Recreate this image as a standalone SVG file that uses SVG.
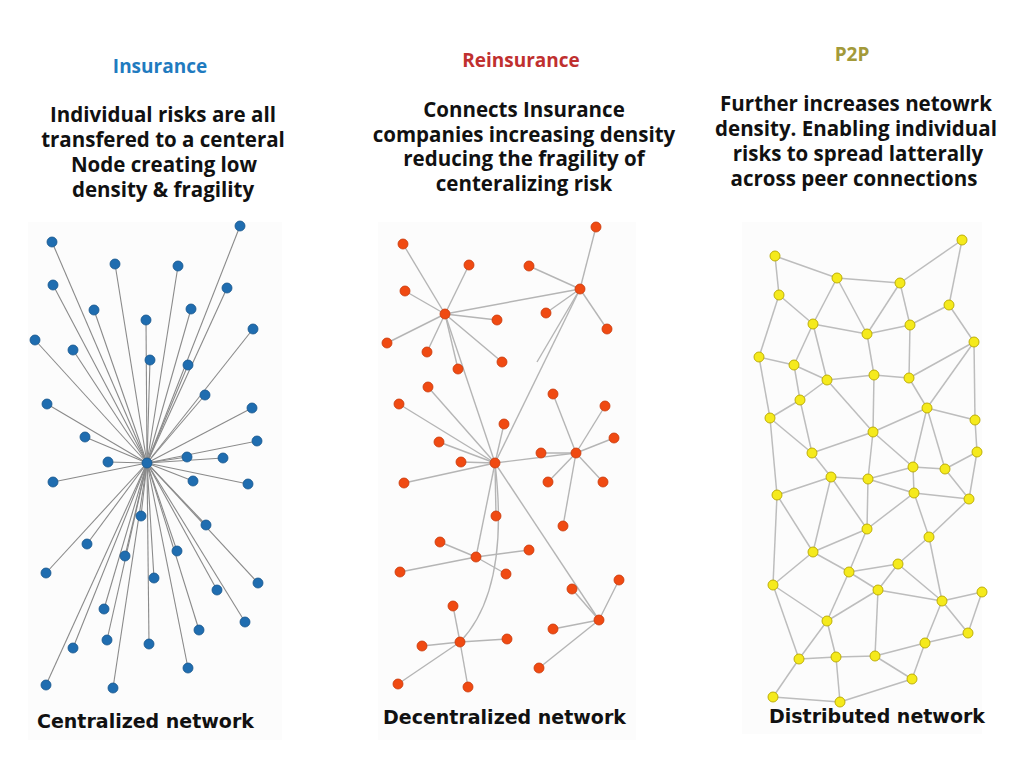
<svg xmlns="http://www.w3.org/2000/svg" width="1024" height="768" viewBox="0 0 1024 768">
<style>
.t{font-family:"Open Sans","Liberation Sans",sans-serif;font-weight:bold;font-size:20.5px;text-anchor:middle;fill:#111}
.h{font-family:"Open Sans","Liberation Sans",sans-serif;font-weight:bold;font-size:19px;text-anchor:middle}
.lbl{font-family:"DejaVu Sans",sans-serif;font-weight:bold;font-size:19px;fill:#111}
.e1 line{stroke:#8a8a8a;stroke-width:1.1}
.e2 line,.e2 path{stroke:#b5b5b5;stroke-width:1.4;fill:none}
.e3 line{stroke:#bdbdbd;stroke-width:1.5}
.n1 circle{fill:#1f6db0;stroke:#17568c;stroke-width:0.8}
.n2 circle{fill:#f04a12;stroke:#c8380a;stroke-width:0.8}
.n3 circle{fill:#f5ea1c;stroke:#b8a800;stroke-width:0.9}
</style>
<rect width="1024" height="768" fill="#fff"/>
<rect x="28" y="222" width="254" height="518" fill="#fcfcfc"/>
<rect x="378" y="222" width="258" height="518" fill="#fcfcfc"/>
<rect x="742" y="222" width="240" height="512" fill="#fcfcfc"/>
<text class="h" x="160" y="73" fill="#1f7bbf">Insurance</text>
<text class="h" x="521" y="67" fill="#c0302f">Reinsurance</text>
<text class="h" x="852" y="61" fill="#a39a3a">P2P</text>
<g class="t">
<text x="163" y="122">Individual risks are all</text>
<text x="163" y="147">transfered to a centeral</text>
<text x="164" y="172">Node creating low</text>
<text x="163" y="197">density &amp; fragility</text>
<text x="524" y="117">Connects Insurance</text>
<text x="524" y="142">companies increasing density</text>
<text x="524" y="166">reducing the fragility of</text>
<text x="524" y="191">centeralizing risk</text>
<text x="856" y="111">Further increases netowrk</text>
<text x="856" y="136">density. Enabling individual</text>
<text x="858" y="161">risks to spread latterally</text>
<text x="854" y="186">across peer connections</text>
</g>
<g id="connectors">
<g class="e1">
<line x1="147" y1="463" x2="52" y2="242"/><line x1="147" y1="463" x2="115" y2="264"/><line x1="147" y1="463" x2="178" y2="266"/><line x1="147" y1="463" x2="240" y2="226"/><line x1="147" y1="463" x2="53" y2="285"/><line x1="147" y1="463" x2="227" y2="288"/><line x1="147" y1="463" x2="94" y2="310"/><line x1="147" y1="463" x2="146" y2="320"/><line x1="147" y1="463" x2="191" y2="309"/><line x1="147" y1="463" x2="253" y2="329"/><line x1="147" y1="463" x2="35" y2="340"/><line x1="147" y1="463" x2="73" y2="350"/><line x1="147" y1="463" x2="150" y2="360"/><line x1="147" y1="463" x2="188" y2="365"/><line x1="147" y1="463" x2="205" y2="395"/><line x1="147" y1="463" x2="47" y2="404"/><line x1="147" y1="463" x2="252" y2="408"/><line x1="147" y1="463" x2="85" y2="437"/><line x1="147" y1="463" x2="257" y2="441"/><line x1="147" y1="463" x2="108" y2="462"/><line x1="147" y1="463" x2="187" y2="457"/><line x1="147" y1="463" x2="223" y2="458"/><line x1="147" y1="463" x2="53" y2="482"/><line x1="147" y1="463" x2="193" y2="481"/><line x1="147" y1="463" x2="248" y2="484"/><line x1="147" y1="463" x2="141" y2="516"/><line x1="147" y1="463" x2="206" y2="525"/><line x1="147" y1="463" x2="87" y2="544"/><line x1="147" y1="463" x2="125" y2="556"/><line x1="147" y1="463" x2="177" y2="551"/><line x1="147" y1="463" x2="46" y2="573"/><line x1="147" y1="463" x2="154" y2="578"/><line x1="147" y1="463" x2="217" y2="590"/><line x1="147" y1="463" x2="258" y2="583"/><line x1="147" y1="463" x2="104" y2="609"/><line x1="147" y1="463" x2="199" y2="630"/><line x1="147" y1="463" x2="245" y2="622"/><line x1="147" y1="463" x2="107" y2="640"/><line x1="147" y1="463" x2="149" y2="644"/><line x1="147" y1="463" x2="73" y2="648"/><line x1="147" y1="463" x2="188" y2="668"/><line x1="147" y1="463" x2="46" y2="685"/><line x1="147" y1="463" x2="113" y2="688"/>
</g>
<g class="e2">
<line x1="445" y1="314" x2="403" y2="244"/><line x1="445" y1="314" x2="469" y2="265"/><line x1="445" y1="314" x2="405" y2="291"/><line x1="445" y1="314" x2="497" y2="320"/><line x1="445" y1="314" x2="387" y2="343"/><line x1="445" y1="314" x2="427" y2="352"/><line x1="445" y1="314" x2="502" y2="362"/><line x1="445" y1="314" x2="458" y2="369"/>
<line x1="445" y1="314" x2="580" y2="289"/><line x1="445" y1="314" x2="495" y2="463"/>
<line x1="580" y1="289" x2="596" y2="227"/><line x1="580" y1="289" x2="529" y2="266"/><line x1="580" y1="289" x2="546" y2="313"/><line x1="580" y1="289" x2="607" y2="329"/><line x1="580" y1="289" x2="537" y2="362"/><line x1="580" y1="289" x2="495" y2="463"/>
<line x1="495" y1="463" x2="428" y2="387"/><line x1="495" y1="463" x2="399" y2="404"/><line x1="495" y1="463" x2="504" y2="424"/><line x1="495" y1="463" x2="439" y2="442"/><line x1="495" y1="463" x2="461" y2="462"/><line x1="495" y1="463" x2="404" y2="483"/><line x1="495" y1="463" x2="496" y2="516"/>
<line x1="495" y1="463" x2="576" y2="453"/><line x1="495" y1="463" x2="476" y2="557"/><line x1="495" y1="463" x2="599" y2="620"/>
<path d="M495,463 Q510,590 460,642"/>
<line x1="576" y1="453" x2="553" y2="394"/><line x1="576" y1="453" x2="605" y2="406"/><line x1="576" y1="453" x2="614" y2="438"/><line x1="576" y1="453" x2="541" y2="453"/><line x1="576" y1="453" x2="548" y2="482"/><line x1="576" y1="453" x2="603" y2="482"/><line x1="576" y1="453" x2="563" y2="526"/>
<line x1="476" y1="557" x2="440" y2="542"/><line x1="476" y1="557" x2="529" y2="550"/><line x1="476" y1="557" x2="400" y2="572"/><line x1="476" y1="557" x2="506" y2="574"/>
<line x1="460" y1="642" x2="453" y2="606"/><line x1="460" y1="642" x2="422" y2="646"/><line x1="460" y1="642" x2="507" y2="639"/><line x1="460" y1="642" x2="398" y2="684"/><line x1="460" y1="642" x2="468" y2="687"/>
<line x1="599" y1="620" x2="572" y2="589"/><line x1="599" y1="620" x2="619" y2="580"/><line x1="599" y1="620" x2="553" y2="629"/><line x1="599" y1="620" x2="539" y2="668"/>
</g>
<g class="e3">
<line x1="775" y1="256" x2="837" y2="278"/><line x1="775" y1="256" x2="779" y2="295"/><line x1="837" y1="278" x2="900" y2="283"/><line x1="900" y1="283" x2="962" y2="240"/><line x1="837" y1="278" x2="813" y2="324"/><line x1="837" y1="278" x2="867" y2="334"/><line x1="900" y1="283" x2="867" y2="334"/><line x1="900" y1="283" x2="910" y2="325"/><line x1="962" y1="240" x2="949" y2="305"/><line x1="779" y1="295" x2="813" y2="324"/><line x1="779" y1="295" x2="759" y2="357"/><line x1="813" y1="324" x2="867" y2="334"/><line x1="813" y1="324" x2="794" y2="365"/><line x1="813" y1="324" x2="827" y2="380"/><line x1="867" y1="334" x2="910" y2="325"/><line x1="867" y1="334" x2="874" y2="375"/><line x1="910" y1="325" x2="949" y2="305"/><line x1="910" y1="325" x2="909" y2="378"/><line x1="949" y1="305" x2="974" y2="342"/><line x1="759" y1="357" x2="794" y2="365"/><line x1="759" y1="357" x2="770" y2="418"/><line x1="794" y1="365" x2="827" y2="380"/><line x1="794" y1="365" x2="800" y2="400"/><line x1="827" y1="380" x2="874" y2="375"/><line x1="827" y1="380" x2="800" y2="400"/><line x1="874" y1="375" x2="909" y2="378"/><line x1="909" y1="378" x2="974" y2="342"/><line x1="909" y1="378" x2="927" y2="408"/><line x1="974" y1="342" x2="927" y2="408"/><line x1="974" y1="342" x2="975" y2="420"/><line x1="827" y1="380" x2="873" y2="432"/><line x1="874" y1="375" x2="873" y2="432"/><line x1="800" y1="400" x2="770" y2="418"/><line x1="800" y1="400" x2="812" y2="453"/><line x1="770" y1="418" x2="812" y2="453"/><line x1="927" y1="408" x2="873" y2="432"/><line x1="927" y1="408" x2="975" y2="420"/><line x1="927" y1="408" x2="913" y2="467"/><line x1="927" y1="408" x2="945" y2="469"/><line x1="975" y1="420" x2="977" y2="452"/><line x1="770" y1="418" x2="777" y2="495"/><line x1="873" y1="432" x2="812" y2="453"/><line x1="873" y1="432" x2="868" y2="479"/><line x1="873" y1="432" x2="913" y2="467"/><line x1="812" y1="453" x2="831" y2="477"/><line x1="831" y1="477" x2="868" y2="479"/><line x1="868" y1="479" x2="913" y2="467"/><line x1="913" y1="467" x2="945" y2="469"/><line x1="977" y1="452" x2="945" y2="469"/><line x1="977" y1="452" x2="969" y2="499"/><line x1="913" y1="467" x2="914" y2="493"/><line x1="868" y1="479" x2="914" y2="493"/><line x1="945" y1="469" x2="969" y2="499"/><line x1="914" y1="493" x2="969" y2="499"/><line x1="777" y1="495" x2="831" y2="477"/><line x1="831" y1="477" x2="867" y2="529"/><line x1="868" y1="479" x2="867" y2="529"/><line x1="831" y1="477" x2="813" y2="552"/><line x1="777" y1="495" x2="813" y2="552"/><line x1="777" y1="495" x2="773" y2="585"/><line x1="914" y1="493" x2="867" y2="529"/><line x1="914" y1="493" x2="929" y2="537"/><line x1="867" y1="529" x2="813" y2="552"/><line x1="867" y1="529" x2="849" y2="572"/><line x1="969" y1="499" x2="929" y2="537"/><line x1="929" y1="537" x2="898" y2="564"/><line x1="813" y1="552" x2="849" y2="572"/><line x1="813" y1="552" x2="773" y2="585"/><line x1="849" y1="572" x2="898" y2="564"/><line x1="849" y1="572" x2="878" y2="590"/><line x1="898" y1="564" x2="878" y2="590"/><line x1="898" y1="564" x2="942" y2="601"/><line x1="929" y1="537" x2="942" y2="601"/><line x1="878" y1="590" x2="942" y2="601"/><line x1="942" y1="601" x2="982" y2="592"/><line x1="982" y1="592" x2="968" y2="633"/><line x1="942" y1="601" x2="968" y2="633"/><line x1="942" y1="601" x2="925" y2="643"/><line x1="773" y1="585" x2="827" y2="621"/><line x1="878" y1="590" x2="827" y2="621"/><line x1="849" y1="572" x2="827" y2="621"/><line x1="878" y1="590" x2="875" y2="656"/><line x1="827" y1="621" x2="799" y2="659"/><line x1="827" y1="621" x2="836" y2="657"/><line x1="799" y1="659" x2="836" y2="657"/><line x1="836" y1="657" x2="875" y2="656"/><line x1="875" y1="656" x2="925" y2="643"/><line x1="875" y1="656" x2="912" y2="679"/><line x1="925" y1="643" x2="968" y2="633"/><line x1="925" y1="643" x2="912" y2="679"/><line x1="773" y1="585" x2="799" y2="659"/><line x1="799" y1="659" x2="773" y2="697"/><line x1="836" y1="657" x2="840" y2="702"/><line x1="773" y1="697" x2="840" y2="702"/><line x1="840" y1="702" x2="912" y2="679"/>
</g>
</g>
<g id="centralized" class="n1">
<circle cx="147" cy="463" r="5"/>
<circle cx="52" cy="242" r="5"/><circle cx="115" cy="264" r="5"/><circle cx="178" cy="266" r="5"/><circle cx="240" cy="226" r="5"/><circle cx="53" cy="285" r="5"/><circle cx="227" cy="288" r="5"/><circle cx="94" cy="310" r="5"/><circle cx="146" cy="320" r="5"/><circle cx="191" cy="309" r="5"/><circle cx="253" cy="329" r="5"/><circle cx="35" cy="340" r="5"/><circle cx="73" cy="350" r="5"/><circle cx="150" cy="360" r="5"/><circle cx="188" cy="365" r="5"/><circle cx="205" cy="395" r="5"/><circle cx="47" cy="404" r="5"/><circle cx="252" cy="408" r="5"/><circle cx="85" cy="437" r="5"/><circle cx="257" cy="441" r="5"/><circle cx="108" cy="462" r="5"/><circle cx="187" cy="457" r="5"/><circle cx="223" cy="458" r="5"/><circle cx="53" cy="482" r="5"/><circle cx="193" cy="481" r="5"/><circle cx="248" cy="484" r="5"/><circle cx="141" cy="516" r="5"/><circle cx="206" cy="525" r="5"/><circle cx="87" cy="544" r="5"/><circle cx="125" cy="556" r="5"/><circle cx="177" cy="551" r="5"/><circle cx="46" cy="573" r="5"/><circle cx="154" cy="578" r="5"/><circle cx="217" cy="590" r="5"/><circle cx="258" cy="583" r="5"/><circle cx="104" cy="609" r="5"/><circle cx="199" cy="630" r="5"/><circle cx="245" cy="622" r="5"/><circle cx="107" cy="640" r="5"/><circle cx="149" cy="644" r="5"/><circle cx="73" cy="648" r="5"/><circle cx="188" cy="668" r="5"/><circle cx="46" cy="685" r="5"/><circle cx="113" cy="688" r="5"/>
</g>
<g id="decentralized" class="n2">
<circle cx="445" cy="314" r="5"/><circle cx="580" cy="289" r="5"/><circle cx="495" cy="463" r="5"/><circle cx="576" cy="453" r="5"/><circle cx="476" cy="557" r="5"/><circle cx="460" cy="642" r="5"/><circle cx="599" cy="620" r="5"/>
<circle cx="403" cy="244" r="5"/><circle cx="469" cy="265" r="5"/><circle cx="405" cy="291" r="5"/><circle cx="497" cy="320" r="5"/><circle cx="387" cy="343" r="5"/><circle cx="427" cy="352" r="5"/><circle cx="502" cy="362" r="5"/><circle cx="458" cy="369" r="5"/>
<circle cx="596" cy="227" r="5"/><circle cx="529" cy="266" r="5"/><circle cx="546" cy="313" r="5"/><circle cx="607" cy="329" r="5"/>
<circle cx="428" cy="387" r="5"/><circle cx="399" cy="404" r="5"/><circle cx="504" cy="424" r="5"/><circle cx="439" cy="442" r="5"/><circle cx="461" cy="462" r="5"/><circle cx="404" cy="483" r="5"/><circle cx="496" cy="516" r="5"/>
<circle cx="553" cy="394" r="5"/><circle cx="605" cy="406" r="5"/><circle cx="614" cy="438" r="5"/><circle cx="541" cy="453" r="5"/><circle cx="548" cy="482" r="5"/><circle cx="603" cy="482" r="5"/><circle cx="563" cy="526" r="5"/>
<circle cx="440" cy="542" r="5"/><circle cx="529" cy="550" r="5"/><circle cx="400" cy="572" r="5"/><circle cx="506" cy="574" r="5"/>
<circle cx="453" cy="606" r="5"/><circle cx="422" cy="646" r="5"/><circle cx="507" cy="639" r="5"/><circle cx="398" cy="684" r="5"/><circle cx="468" cy="687" r="5"/>
<circle cx="572" cy="589" r="5"/><circle cx="619" cy="580" r="5"/><circle cx="553" cy="629" r="5"/><circle cx="539" cy="668" r="5"/>
</g>
<g id="distributed" class="n3">
<circle cx="775" cy="256" r="5"/><circle cx="837" cy="278" r="5"/><circle cx="900" cy="283" r="5"/><circle cx="962" cy="240" r="5"/><circle cx="779" cy="295" r="5"/><circle cx="813" cy="324" r="5"/><circle cx="867" cy="334" r="5"/><circle cx="910" cy="325" r="5"/><circle cx="949" cy="305" r="5"/><circle cx="759" cy="357" r="5"/><circle cx="794" cy="365" r="5"/><circle cx="827" cy="380" r="5"/><circle cx="874" cy="375" r="5"/><circle cx="909" cy="378" r="5"/><circle cx="974" cy="342" r="5"/><circle cx="800" cy="400" r="5"/><circle cx="770" cy="418" r="5"/><circle cx="927" cy="408" r="5"/><circle cx="975" cy="420" r="5"/><circle cx="873" cy="432" r="5"/><circle cx="812" cy="453" r="5"/><circle cx="977" cy="452" r="5"/><circle cx="831" cy="477" r="5"/><circle cx="868" cy="479" r="5"/><circle cx="913" cy="467" r="5"/><circle cx="945" cy="469" r="5"/><circle cx="777" cy="495" r="5"/><circle cx="914" cy="493" r="5"/><circle cx="969" cy="499" r="5"/><circle cx="867" cy="529" r="5"/><circle cx="929" cy="537" r="5"/><circle cx="813" cy="552" r="5"/><circle cx="849" cy="572" r="5"/><circle cx="898" cy="564" r="5"/><circle cx="773" cy="585" r="5"/><circle cx="878" cy="590" r="5"/><circle cx="942" cy="601" r="5"/><circle cx="982" cy="592" r="5"/><circle cx="827" cy="621" r="5"/><circle cx="925" cy="643" r="5"/><circle cx="968" cy="633" r="5"/><circle cx="799" cy="659" r="5"/><circle cx="836" cy="657" r="5"/><circle cx="875" cy="656" r="5"/><circle cx="912" cy="679" r="5"/><circle cx="773" cy="697" r="5"/><circle cx="840" cy="702" r="5"/>
</g>
<text class="lbl" x="37" y="728">Centralized network</text>
<text class="lbl" x="383" y="724">Decentralized network</text>
<text class="lbl" x="769" y="723">Distributed network</text>
</svg>
